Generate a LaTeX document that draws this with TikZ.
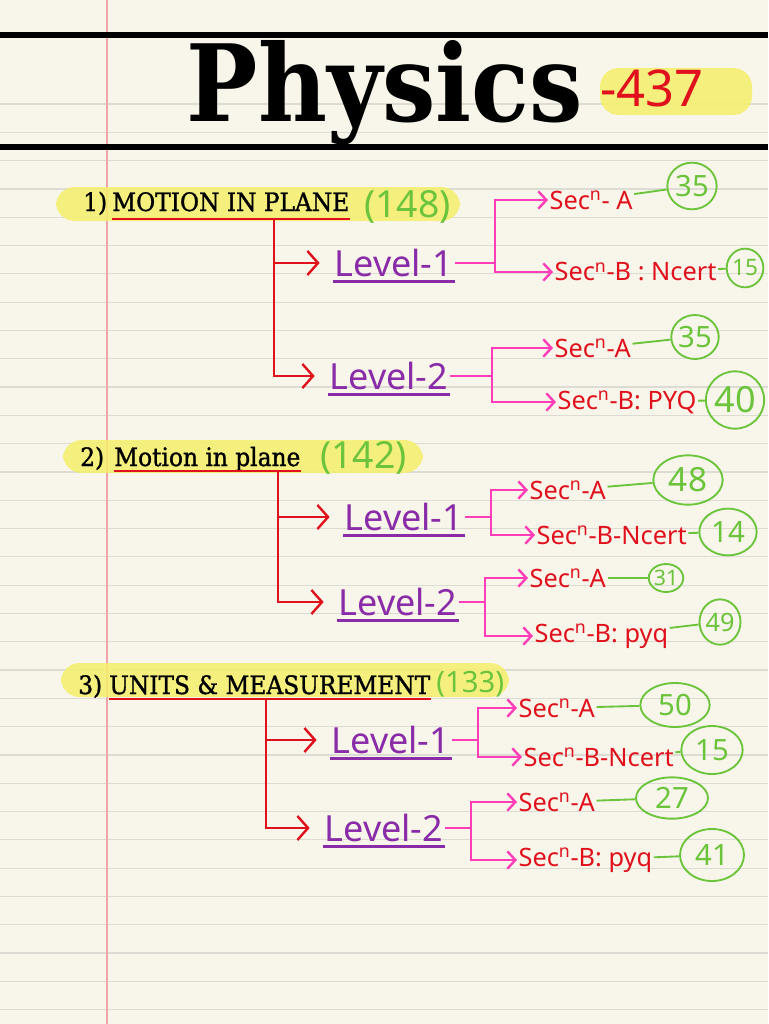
\documentclass[tikz,border=0pt]{standalone}
\usepackage{fontspec}
\setmainfont{DejaVu Serif}
\newfontfamily\titlefont{DejaVu Serif}[FakeStretch=0.89]
\newfontfamily\headfont{DejaVu Serif}[FakeStretch=0.92, FakeBold=1.2]
\newfontfamily\hand{Noto Sans}
\usetikzlibrary{positioning, arrows.meta, shapes.geometric}

\definecolor{paper}{HTML}{F8F6EA}
\definecolor{ruleline}{HTML}{DCDCD4}
\definecolor{marginred}{HTML}{F2A3A8}
\definecolor{hilite}{HTML}{F5F06C}
\definecolor{inkred}{HTML}{E0101C}
\definecolor{inkpink}{HTML}{FF3DB8}
\definecolor{inkpurple}{HTML}{8A2BA8}
\definecolor{inkgreen}{HTML}{6CC43C}

\tikzset{
  head/.style={anchor=base west, inner sep=0pt, font=\headfont\fontsize{19}{21}\selectfont},
  lvl/.style={anchor=west, text=inkpurple, inner sep=1pt, font=\hand\fontsize{27}{30}\selectfont},
  sec/.style={anchor=west, text=inkred, inner sep=1pt, font=\hand\fontsize{19}{22}\selectfont},
  tally/.style={ellipse, draw=inkgreen, line width=1.4pt, text=inkgreen, inner sep=0pt, font=\hand\fontsize{22}{24}\selectfont},
  count/.style={anchor=west, text=inkgreen, inner sep=0pt, font=\hand\fontsize{28}{30}\selectfont},
  trunk/.style={draw=inkred, line width=1.8pt, shorten >=10pt, -{Straight Barb[length=8pt,width=18pt]}},
  fork/.style={draw=inkpink, line width=1.8pt, -{Straight Barb[length=6pt,width=13pt]}},
  redline/.style={draw=inkred, line width=1.5pt},
  purpleline/.style={draw=inkpurple, line width=2.2pt},
  dashline/.style={draw=inkgreen, line width=1.4pt},
  marker/.style={fill=hilite, rounded corners=14pt, opacity=0.85},
}

\begin{document}
\begin{tikzpicture}[x=0.75pt, y=-0.75pt]
  \useasboundingbox (0,0) rectangle (768,1024);
  \fill[paper] (0,0) rectangle (768,1024);
  \foreach \k in {0,...,32}
    \draw[ruleline, line width=0.9pt] (0,{104+28.3*\k}) -- (768,{104+28.3*\k});
  \draw[marginred, line width=1pt] (107,0) -- (107,1024);
  \draw[line width=5pt] (0,35) -- (768,35);
  \draw[line width=5pt] (0,147) -- (768,147);

  % title
  \fill[marker] (600,68) rectangle (752,115);
  \node[anchor=base, inner sep=0pt, font=\titlefont\fontsize{80}{86}\selectfont\bfseries] (title) at (385,121) {Physics};
  \node[anchor=base west, inner sep=0pt, text=inkred, font=\hand\fontsize{38}{40}\selectfont] (total) at (600,106) {-437};

  % 1) motion in plane
  \fill[marker] (56,187) rectangle (460,221);
  \node[head] (n1) at (83,211) {1)};
  \node[head] (h1) at (112,211) {MOTION IN PLANE};
  \draw[redline] ([yshift=-6pt]h1.base west) -- ([yshift=-6pt]h1.base east);
  \node[count] (c1) at (364,207) {(148)};
  \coordinate (t1) at (274,219);
  \node[lvl] (l11) at (333,263) {Level-1};
  \node[lvl] (l12) at (328,376) {Level-2};
  \draw[purpleline] ([yshift=-2pt]l11.south west) -- ([yshift=-2pt]l11.south east);
  \draw[purpleline] ([yshift=-2pt]l12.south west) -- ([yshift=-2pt]l12.south east);
  \draw[trunk] (t1) |- (l11.west);
  \draw[trunk] (t1) |- (l12.west);
  \node[sec] (s111) at (548,200) {Sec\textsuperscript{n}- A};
  \node[sec] (s112) at (553,272) {Sec\textsuperscript{n}-B : Ncert};
  \node[sec] (s121) at (553,348) {Sec\textsuperscript{n}-A};
  \node[sec] (s122) at (556,402) {Sec\textsuperscript{n}-B: PYQ};
  \draw[fork, -] (l11.east) -- ++(40,0) coordinate (j11);
  \draw[fork] (j11) |- (s111.west);
  \draw[fork] (j11) |- (s112.west);
  \draw[fork, -] (l12.east) -- ++(42,0) coordinate (j12);
  \draw[fork] (j12) |- (s121.west);
  \draw[fork] (j12) |- (s122.west);
  \node[tally, minimum width=37pt, minimum height=35pt] (k111) at (692,186) {35};
  \node[tally, minimum width=26pt, minimum height=29pt, font=\hand\fontsize{17}{18}\selectfont] (k112) at (745,268) {15};
  \node[tally, minimum width=34pt, minimum height=33pt] (k121) at (695,337) {35};
  \node[tally, minimum width=43pt, minimum height=43pt, font=\hand\fontsize{27}{28}\selectfont] (k122) at (735,400) {40};
  \draw[dashline] (s111) -- (k111);
  \draw[dashline] (s112) -- (k112);
  \draw[dashline] (s121) -- (k121);
  \draw[dashline] (s122) -- (k122);

  % 2) motion in plane
  \fill[marker] (63,440) rectangle (423,473);
  \node[head] (n2) at (80,466) {2)};
  \node[head] (h2) at (114,466) {Motion in plane};
  \draw[redline] ([yshift=-4pt]h2.base west) -- ([yshift=-4pt]h2.base east);
  \node[count] (c2) at (320,458) {(142)};
  \coordinate (t2) at (278,472);
  \node[lvl] (l21) at (343,517) {Level-1};
  \node[lvl] (l22) at (337,602) {Level-2};
  \draw[purpleline] ([yshift=-2pt]l21.south west) -- ([yshift=-2pt]l21.south east);
  \draw[purpleline] ([yshift=-2pt]l22.south west) -- ([yshift=-2pt]l22.south east);
  \draw[trunk] (t2) |- (l21.west);
  \draw[trunk] (t2) |- (l22.west);
  \node[sec] (s211) at (528,490) {Sec\textsuperscript{n}-A};
  \node[sec] (s212) at (535,535) {Sec\textsuperscript{n}-B-Ncert};
  \node[sec] (s221) at (528,578) {Sec\textsuperscript{n}-A};
  \node[sec] (s222) at (533,636) {Sec\textsuperscript{n}-B: pyq};
  \draw[fork, -] (l21.east) -- ++(26,0) coordinate (j21);
  \draw[fork] (j21) |- (s211.west);
  \draw[fork] (j21) |- (s212.west);
  \draw[fork, -] (l22.east) -- ++(26,0) coordinate (j22);
  \draw[fork] (j22) |- (s221.west);
  \draw[fork] (j22) |- (s222.west);
  \node[tally, minimum width=52pt, minimum height=37pt, font=\hand\fontsize{25}{26}\selectfont] (k211) at (688,480) {48};
  \node[tally, minimum width=43pt, minimum height=35pt] (k212) at (728,532) {14};
  \node[tally, minimum width=25pt, minimum height=21pt, font=\hand\fontsize{16}{17}\selectfont] (k221) at (666,578) {31};
  \node[tally, minimum width=30pt, minimum height=34pt, font=\hand\fontsize{19}{20}\selectfont] (k222) at (720,622) {49};
  \draw[dashline] (s211) -- (k211);
  \draw[dashline] (s212) -- (k212);
  \draw[dashline] (s221) -- (k221);
  \draw[dashline] (s222) -- (k222);

  % 3) units & measurement
  \fill[marker] (61,663) rectangle (509,697);
  \node[head] (n3) at (78,694) {3)};
  \node[head] (h3) at (109,694) {UNITS \& MEASUREMENT};
  \draw[redline] ([yshift=-4pt]h3.base west) -- ([yshift=-4pt]h3.base east);
  \node[count, font=\hand\fontsize{22}{24}\selectfont] (c3) at (436,684) {(133)};
  \coordinate (t3) at (266,699);
  \node[lvl] (l31) at (330,740) {Level-1};
  \node[lvl] (l32) at (323,828) {Level-2};
  \draw[purpleline] ([yshift=-2pt]l31.south west) -- ([yshift=-2pt]l31.south east);
  \draw[purpleline] ([yshift=-2pt]l32.south west) -- ([yshift=-2pt]l32.south east);
  \draw[trunk] (t3) |- (l31.west);
  \draw[trunk] (t3) |- (l32.west);
  \node[sec] (s311) at (517,708) {Sec\textsuperscript{n}-A};
  \node[sec] (s312) at (522,757) {Sec\textsuperscript{n}-B-Ncert};
  \node[sec] (s321) at (517,802) {Sec\textsuperscript{n}-A};
  \node[sec] (s322) at (517,860) {Sec\textsuperscript{n}-B: pyq};
  \draw[fork, -] (l31.east) -- ++(26,0) coordinate (j31);
  \draw[fork] (j31) |- (s311.west);
  \draw[fork] (j31) |- (s312.west);
  \draw[fork, -] (l32.east) -- ++(26,0) coordinate (j32);
  \draw[fork] (j32) |- (s321.west);
  \draw[fork] (j32) |- (s322.west);
  \node[tally, minimum width=52pt, minimum height=33pt] (k311) at (675,705) {50};
  \node[tally, minimum width=46pt, minimum height=36pt] (k312) at (712,750) {15};
  \node[tally, minimum width=54pt, minimum height=31pt] (k321) at (672,798) {27};
  \node[tally, minimum width=48pt, minimum height=39pt] (k322) at (712,855) {41};
  \draw[dashline] (s311) -- (k311);
  \draw[dashline] (s312) -- (k312);
  \draw[dashline] (s321) -- (k321);
  \draw[dashline] (s322) -- (k322);
\end{tikzpicture}
\end{document}
